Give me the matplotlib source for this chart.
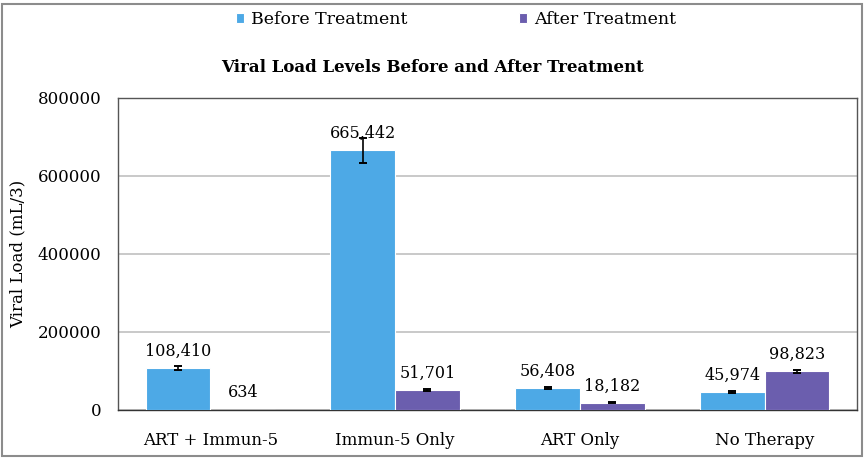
import numpy as np
import matplotlib
matplotlib.use('Agg')
import matplotlib.pyplot as plt
from matplotlib.patches import Rectangle

# --- data ---
categories = ['ART + Immun-5', 'Immun-5 Only', 'ART Only', 'No Therapy']
before = [108410, 665442, 56408, 45974]
after = [634, 51701, 18182, 98823]
before_err = [5000, 33000, 3000, 2000]
after_err = [0, 2500, 1500, 4500]
series_names = ['Before Treatment', 'After Treatment']

BLUE = '#4DA9E6'
PURPLE = '#6B5EAE'

plt.rcParams['font.family'] = ['DejaVu Serif']

fig = plt.figure(figsize=(8.65, 4.59), dpi=100)
ax = fig.add_axes([118 / 865, 1 - 410 / 459, (857 - 118) / 865, (410 - 98) / 459])

x = np.arange(len(categories))
w = 0.35
ekw = dict(ecolor='black', elinewidth=1.2, capsize=3, capthick=1.4)
b1 = ax.bar(x - w / 2, before, w, color=BLUE, edgecolor='white', linewidth=0.8,
            yerr=before_err, error_kw=ekw, zorder=3)
b2 = ax.bar(x + w / 2, after, w, color=PURPLE, edgecolor='white', linewidth=0.8,
            yerr=[e if e > 0 else np.nan for e in after_err], error_kw=ekw, zorder=3)

for rects, vals in ((b1, before), (b2, after)):
    for r, v in zip(rects, vals):
        ax.annotate(f'{v:,}', (r.get_x() + r.get_width() / 2, v),
                    xytext=(0, 6), textcoords='offset points',
                    ha='center', va='bottom', fontsize=11.5)

ax.set_xlim(-0.5, len(categories) - 0.5)
ax.set_ylim(0, 800000)
ax.set_yticks(np.arange(0, 800001, 200000))
ax.set_yticklabels([f'{int(t)}' for t in np.arange(0, 800001, 200000)], fontsize=12)
ax.set_xticks(x)
ax.set_xticklabels(categories, fontsize=12)
ax.tick_params(axis='both', length=0, pad=12)
ax.tick_params(axis='x', pad=16)
ax.yaxis.grid(True, color='#C0C0C0', linewidth=1.2, zorder=0)
ax.set_axisbelow(True)
for s in ax.spines.values():
    s.set_color('#555555')
    s.set_linewidth(1.0)
ax.spines['bottom'].set_color('#333333')
ax.set_ylabel('Viral Load (mL/3)', fontsize=12, labelpad=8)

fig.text(0.5, 1 - 68 / 459, 'Viral Load Levels Before and After Treatment',
         ha='center', va='center', fontsize=12, fontweight='bold')

ax.legend([b1, b2], series_names, loc='center', bbox_to_anchor=(456 / 865, 1 - 20 / 459),
          bbox_transform=fig.transFigure, ncol=2, frameon=False, fontsize=12.5,
          handlelength=0.5, handleheight=0.5, handletextpad=0.4, columnspacing=6.4)

fig.patches.append(Rectangle((2 / 865, 3 / 459), 860 / 865, 452 / 459,
                             transform=fig.transFigure, fill=False,
                             edgecolor='#8C8C8C', linewidth=1.5))

fig.savefig('out.png', dpi=100)
